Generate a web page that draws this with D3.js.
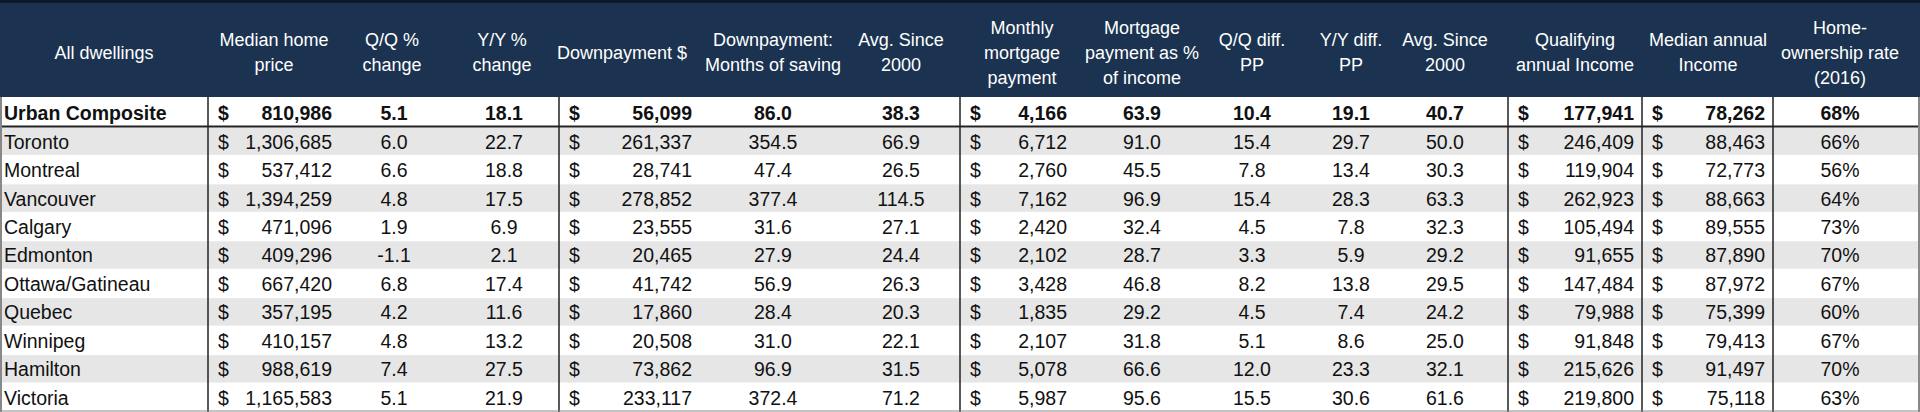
<!DOCTYPE html>
<html><head><meta charset="utf-8">
<script src="https://cdn.jsdelivr.net/npm/d3@7"></script>
<style>body{margin:0;background:#fff}svg{display:block;font-family:"Liberation Sans",Arial,sans-serif}</style>
</head><body><svg id="t" width="1920" height="412"></svg>
<script>
const cities = ["Urban Composite","Toronto","Montreal","Vancouver","Calgary","Edmonton","Ottawa/Gatineau","Quebec","Winnipeg","Hamilton","Victoria"];
const medianPrice = [810986,1306685,537412,1394259,471096,409296,667420,357195,410157,988619,1165583];
const qqChange = [5.1,6.0,6.6,4.8,1.9,-1.1,6.8,4.2,4.8,7.4,5.1];
const yyChange = [18.1,22.7,18.8,17.5,6.9,2.1,17.4,11.6,13.2,27.5,21.9];
const downpayment = [56099,261337,28741,278852,23555,20465,41742,17860,20508,73862,233117];
const monthsSaving = [86.0,354.5,47.4,377.4,31.6,27.9,56.9,28.4,31.0,96.9,372.4];
const avgSaving = [38.3,66.9,26.5,114.5,27.1,24.4,26.3,20.3,22.1,31.5,71.2];
const monthlyMortgage = [4166,6712,2760,7162,2420,2102,3428,1835,2107,5078,5987];
const mortgagePct = [63.9,91.0,45.5,96.9,32.4,28.7,46.8,29.2,31.8,66.6,95.6];
const qqDiff = [10.4,15.4,7.8,15.4,4.5,3.3,8.2,4.5,5.1,12.0,15.5];
const yyDiff = [19.1,29.7,13.4,28.3,7.8,5.9,13.8,7.4,8.6,23.3,30.6];
const avgMortgage = [40.7,50.0,30.3,63.3,32.3,29.2,29.5,24.2,25.0,32.1,61.6];
const qualIncome = [177941,246409,119904,262923,105494,91655,147484,79988,91848,215626,219800];
const medianIncome = [78262,88463,72773,88663,89555,87890,87972,75399,79413,91497,75118];
const ownership = [68,66,56,64,73,70,67,60,67,70,63];

const headers = [["All dwellings"],["Median home","price"],["Q/Q %","change"],["Y/Y %","change"],["Downpayment $"],["Downpayment:","Months of saving"],["Avg. Since","2000"],["Monthly","mortgage","payment"],["Mortgage","payment as %","of income"],["Q/Q diff.","PP"],["Y/Y diff.","PP"],["Avg. Since","2000"],["Qualifying","annual Income"],["Median annual","Income"],["Home-","ownership rate","(2016)"]];

const locale = d3.formatLocale({decimal:".",thousands:",",grouping:[3],currency:["$",""],minus:"-"});
const fmtInt = locale.format(",");
const fmt1 = locale.format(".1f");
const cols = [
  {x0:0,x1:208,v:cities,type:"label"},
  {x0:208,x1:340,v:medianPrice,type:"money",f:fmtInt},
  {x0:340,x1:450,v:qqChange,f:fmt1,cx:394},
  {x0:450,x1:559,v:yyChange,f:fmt1,cx:504},
  {x0:559,x1:700,v:downpayment,type:"money",f:fmtInt},
  {x0:700,x1:845,v:monthsSaving,f:fmt1,cx:773},
  {x0:845,x1:960,v:avgSaving,f:fmt1,cx:901},
  {x0:960,x1:1075,v:monthlyMortgage,type:"money",f:fmtInt},
  {x0:1075,x1:1205,v:mortgagePct,f:fmt1,cx:1142},
  {x0:1205,x1:1300,v:qqDiff,f:fmt1,cx:1252},
  {x0:1300,x1:1400,v:yyDiff,f:fmt1,cx:1351},
  {x0:1400,x1:1508,v:avgMortgage,f:fmt1,cx:1445},
  {x0:1508,x1:1642,v:qualIncome,type:"money",f:fmtInt},
  {x0:1642,x1:1773,v:medianIncome,type:"money",f:fmtInt},
  {x0:1773,x1:1920,v:ownership,f:d=>d+"%",cx:1840}
];
const headerCx = [104,274,392,502,622,773,901,1022,1142,1252,1351,1445,1575,1708,1840];

const svg = d3.select("#t");
const headerH = 97;
const y = d3.scaleBand().domain(d3.range(cities.length)).range([headerH + 2, 412]);

svg.append("rect").attr("x",0).attr("y",0).attr("width",1920).attr("height",headerH).attr("fill","#1b3350");
svg.append("rect").attr("x",0).attr("y",0).attr("width",1920).attr("height",3).attr("fill","#0c1a2b");

const hg = svg.append("g");
headers.forEach((lines,i)=>{
  const lh = 25, mid = headerH/2 + 4;
  const t = hg.append("text").attr("x",headerCx[i]).attr("text-anchor","middle")
    .attr("fill","#fff").attr("font-size",18);
  lines.forEach((l,k)=>{
    t.append("tspan").attr("x",headerCx[i]).attr("y",mid + (k-(lines.length-1)/2)*lh + 6).text(l);
  });
});

const rows = svg.append("g").selectAll("g").data(cities).join("g")
  .attr("transform",(d,i)=>`translate(0,${y(i)})`);
rows.append("rect").attr("width",1920).attr("height",y.bandwidth()-1)
  .attr("fill",(d,i)=> i%2===1 ? "#e6e6e6" : "#fff");

const bh = y.bandwidth();
cols.forEach(c=>{
  rows.each(function(d,i){
    const g = d3.select(this);
    const bold = i===0 ? "bold" : "normal";
    const base = bh/2 + 7;
    if (c.type==="label") {
      g.append("text").attr("x",4).attr("y",base).attr("font-size",19.5).attr("font-weight",bold).attr("fill","#111").text(c.v[i]);
    } else if (c.type==="money") {
      g.append("text").attr("x",c.x0+10).attr("y",base).attr("font-size",19.5).attr("font-weight",bold).attr("fill","#111").text("$");
      g.append("text").attr("x",c.x1-8).attr("y",base).attr("text-anchor","end").attr("font-size",19.5).attr("font-weight",bold).attr("fill","#111").text(c.f(c.v[i]));
    } else {
      g.append("text").attr("x",c.cx).attr("y",base).attr("text-anchor","middle").attr("font-size",19.5).attr("font-weight",bold).attr("fill","#111").text(c.f(c.v[i]));
    }
  });
});

svg.append("line").attr("x1",0).attr("x2",1920).attr("y1",y(1)-1).attr("y2",y(1)-1).attr("stroke","#222").attr("stroke-width",2);
[208,559,960,1508,1642,1773].forEach(x=>{
  svg.append("line").attr("x1",x).attr("x2",x).attr("y1",headerH).attr("y2",412).attr("stroke","#222").attr("stroke-width",1.5);
});
svg.append("line").attr("x1",1).attr("x2",1).attr("y1",headerH).attr("y2",412).attr("stroke","#888").attr("stroke-width",2);
svg.append("line").attr("x1",1919).attr("x2",1919).attr("y1",headerH).attr("y2",412).attr("stroke","#888").attr("stroke-width",2);
svg.append("line").attr("x1",0).attr("x2",1920).attr("y1",411).attr("y2",411).attr("stroke","#888").attr("stroke-width",1);
</script></body></html>
